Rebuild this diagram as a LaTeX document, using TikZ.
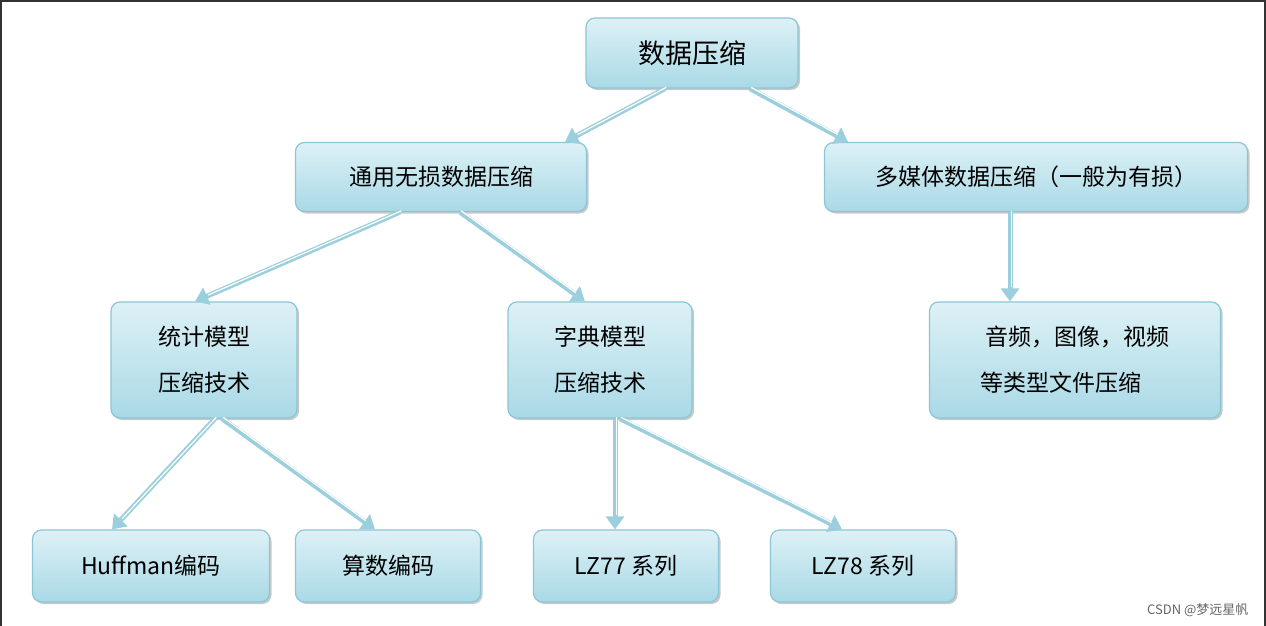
\documentclass[tikz,border=0pt]{standalone}
\usepackage{fontspec}
\setmainfont{Noto Sans CJK SC}
\usetikzlibrary{shadows,arrows.meta}
\definecolor{bd}{HTML}{8CC6D6}
\definecolor{tp}{HTML}{DDF1F6}
\definecolor{bt}{HTML}{A9D9E6}
\definecolor{ar}{HTML}{9CCFDD}
\tikzset{
 bx/.style={draw=bd,line width=1.2pt,rounded corners=9pt,top color=tp,bottom color=bt,
   drop shadow={shadow xshift=2pt,shadow yshift=-2pt,fill=black!35,opacity=.6},
   align=left,font=\fontsize{23pt}{46pt}\selectfont,inner sep=0pt},
 ar/.style={draw=ar,line width=5pt,-{Triangle[length=13pt,width=18pt]}},
 arw/.style={draw=white,line width=1.2pt,shorten >=13pt}
}
\begin{document}
\begin{tikzpicture}[x=1pt,y=-1pt]
\useasboundingbox (0,0) rectangle (1266,626);
\fill[white] (0,0) rectangle (1266,626);
\draw[black!80,line width=2pt] (1,626)--(1,1)--(1265,1)--(1265,626);
\node[bx,minimum width=212pt,minimum height=70pt,font=\fontsize{27pt}{30pt}\selectfont] (a) at (692,53) {数据压缩};
\node[bx,minimum width=291pt,minimum height=69pt] (b) at (441,177) {通用无损数据压缩};
\node[bx,minimum width=423pt,minimum height=69pt] (c) at (1036,177) {多媒体数据压缩（一般为有损）};
\node[bx,minimum width=186pt,minimum height=116pt] (d) at (204,360) {统计模型\\压缩技术};
\node[bx,minimum width=184pt,minimum height=116pt] (e) at (600,360) {字典模型\\压缩技术};
\node[bx,minimum width=291pt,minimum height=116pt] (f) at (1075,360) {\ 音频，图像，视频\\等类型文件压缩};
\node[bx,minimum width=237pt,minimum height=72pt] (g) at (151,566) {Huffman编码};
\node[bx,minimum width=185pt,minimum height=72pt] (h) at (388,566) {算数编码};
\node[bx,minimum width=185pt,minimum height=72pt] (i) at (626,566) {LZ77 系列};
\node[bx,minimum width=185pt,minimum height=72pt] (j) at (863,566) {LZ78 系列};
\foreach \s/\t/\sx/\tx in {a/b/-27/124, a/c/58/-188, b/d/-41/-9, b/e/19/-15, c/f/-26/-65, d/g/11/-39, d/h/18/-13, e/i/15/-11, e/j/20/-21}{
 \coordinate (s) at ([xshift=\sx pt]\s.south);
 \coordinate (t) at ([xshift=\tx pt]\t.north);
 \draw[ar] (s) -- (t);
 \draw[arw] ([xshift=1.2pt,yshift=1.2pt]s) -- ([xshift=1.2pt,yshift=1.2pt]t);
}
\node[font=\fontsize{13pt}{15pt}\selectfont,text=black!60,anchor=south east] (w) at (1252,620) {CSDN @梦远星帆};
\end{tikzpicture}
\end{document}
